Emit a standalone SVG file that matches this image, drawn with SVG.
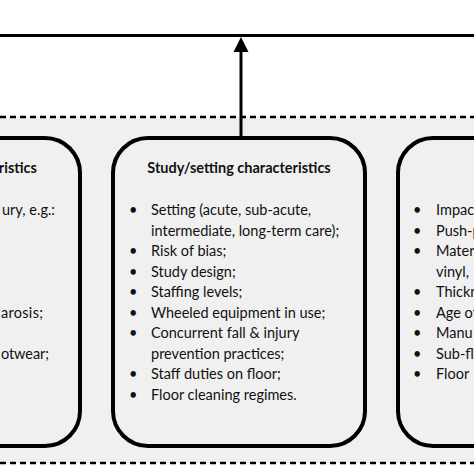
<svg xmlns="http://www.w3.org/2000/svg" width="474" height="474" viewBox="0 0 474 474">
<style>
  .bg { fill: #f0f0f0; }
  .dash { stroke: #000; stroke-width: 2.5; stroke-dasharray: 6 4; fill: none; }
  .box { fill: #f0f0f0; stroke: #000; stroke-width: 4; }
  .t { font-family: Lato, "Liberation Sans", sans-serif; font-size: 14.5px; fill: #111; }
  .title { font-weight: bold; }
  .conn { stroke: #000; stroke-width: 3; fill: none; }
</style>
<rect x="0" y="0" width="474" height="474" fill="#fff"/>
<rect class="bg" x="0" y="117" width="474" height="346"/>
<line class="dash" x1="0" y1="117" x2="474" y2="117"/>
<line class="dash" x1="0" y1="463" x2="474" y2="463"/>

<g id="outcome-line">
  <line class="conn" x1="0" y1="35.5" x2="474" y2="35.5"/>
</g>

<g id="node-left">
  <rect class="box" x="-60" y="138" width="140" height="308" rx="35" ry="35"/>
  <text class="t title" x="37" y="173" text-anchor="end">ristics</text>
  <text class="t" x="2" y="215" textLength="53" lengthAdjust="spacing">ury, e.g.:</text>
  <text class="t" x="1" y="317.5" textLength="42" lengthAdjust="spacing">arosis;</text>
  <text class="t" x="1" y="358.5" textLength="48" lengthAdjust="spacing">otwear;</text>
</g>

<g id="node-study">
  <rect class="box" x="113" y="138" width="252" height="308" rx="35" ry="35"/>
  <text class="t title" x="239" y="173" text-anchor="middle">Study/setting characteristics</text>
  <g class="t">
    <text x="129" y="215">•</text><text x="151" y="215">Setting (acute, sub-acute,</text>
    <text x="151" y="235.5">intermediate, long-term care);</text>
    <text x="129" y="256">•</text><text x="151" y="256">Risk of bias;</text>
    <text x="129" y="276.5">•</text><text x="151" y="276.5">Study design;</text>
    <text x="129" y="297">•</text><text x="151" y="297">Staffing levels;</text>
    <text x="129" y="317.5">•</text><text x="151" y="317.5">Wheeled equipment in use;</text>
    <text x="129" y="338">•</text><text x="151" y="338">Concurrent fall &amp; injury</text>
    <text x="151" y="358.5">prevention practices;</text>
    <text x="129" y="379">•</text><text x="151" y="379">Staff duties on floor;</text>
    <text x="129" y="399.5">•</text><text x="151" y="399.5">Floor cleaning regimes.</text>
  </g>
</g>

<g id="node-right">
  <rect class="box" x="398" y="138" width="140" height="308" rx="35" ry="35"/>
  <g class="t">
    <text x="413" y="215">•</text><text x="436" y="215">Impac</text>
    <text x="413" y="235.5">•</text><text x="436" y="235.5">Push-p</text>
    <text x="413" y="256">•</text><text x="436" y="256">Mater</text>
    <text x="436" y="276.5">vinyl, </text>
    <text x="413" y="297">•</text><text x="436" y="297">Thickn</text>
    <text x="413" y="317.5">•</text><text x="436" y="317.5">Age of</text>
    <text x="413" y="338">•</text><text x="436" y="338">Manu</text>
    <text x="413" y="358.5">•</text><text x="436" y="358.5">Sub-fl</text>
    <text x="413" y="379">•</text><text x="436" y="379">Floor</text>
  </g>
</g>

<g id="connectors">
  <line class="conn" x1="241" y1="137" x2="241" y2="50"/>
  <polygon points="241,37 233.5,52 248.5,52" fill="#000"/>
</g>
</svg>
